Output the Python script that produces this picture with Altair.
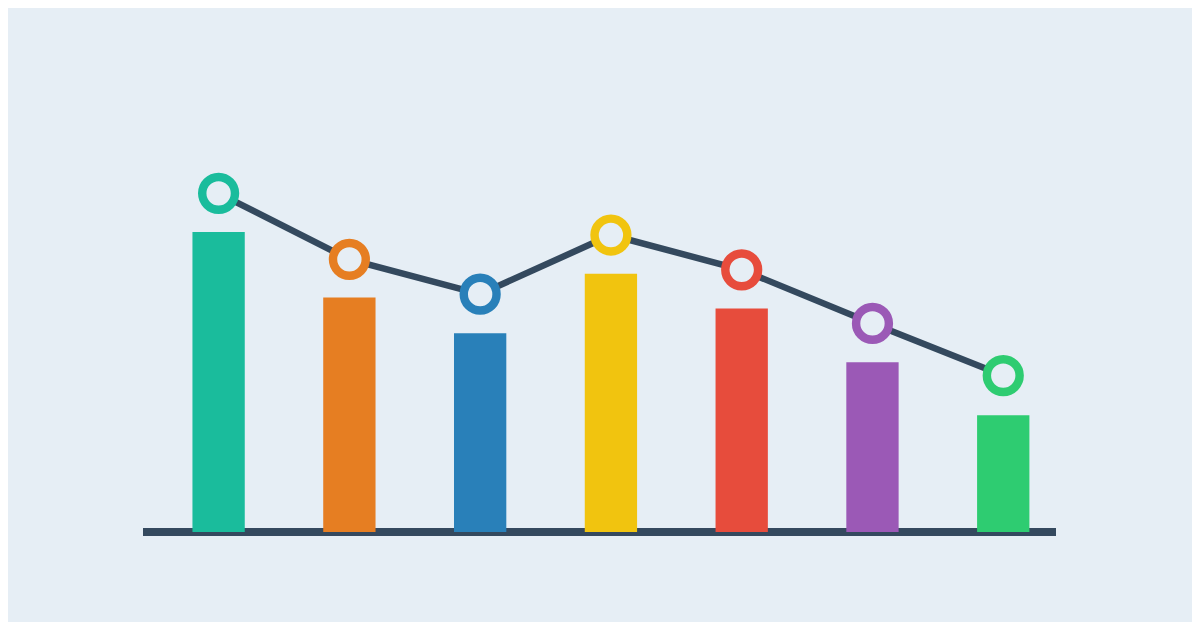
import altair as alt
import pandas as pd

categories = ["A", "B", "C", "D", "E", "F", "G"]
bar_values = [60.4, 47.2, 40.0, 52.0, 45.0, 34.2, 23.5]
line_values = [68.2, 54.9, 47.9, 59.8, 52.8, 42.0, 31.5]
colors = ["#1ABC9C", "#E67E22", "#2980B9", "#F1C40F", "#E74C3C", "#9B59B6", "#2ECC71"]

BG = "#E6EEF5"
DARK = "#34495E"

df = pd.DataFrame({"cat": categories, "bar": bar_values, "line": line_values})

x = alt.X("cat:N", sort=categories, axis=None,
          scale=alt.Scale(type="band", range=[10.2, 931.8], paddingInner=0.6, paddingOuter=0.3))
yscale = alt.Scale(domain=[0, 100], nice=False, zero=True)
color = alt.Color("cat:N", scale=alt.Scale(domain=categories, range=colors), legend=None)

base = alt.Chart(df)

baseline = base.mark_rule(color=DARK, strokeWidth=7, strokeCap="butt").encode(
    y=alt.datum(0, scale=yscale, axis=None)
)

bars = base.mark_bar(cornerRadius=0).encode(
    x=x,
    y=alt.Y("bar:Q", scale=yscale, axis=None),
    color=color,
)

line = base.mark_line(color=DARK, strokeWidth=6.5).encode(
    x=x,
    y=alt.Y("line:Q", scale=yscale, axis=None),
)

points = base.mark_point(shape="circle", filled=False, fill=BG, fillOpacity=1,
                         strokeWidth=8.5, size=1089, opacity=1).encode(
    x=x,
    y=alt.Y("line:Q", scale=yscale, axis=None),
    stroke=alt.Stroke("cat:N", scale=alt.Scale(domain=categories, range=colors), legend=None),
)

chart = alt.layer(baseline, bars, line, points).properties(
    width=919,
    height=500,
    background=BG,
    padding={"left": 132, "top": 25.5, "right": 133, "bottom": 84},
).configure_view(stroke=None)

chart.save("out.html", embed_options={"renderer": "svg", "actions": False})
